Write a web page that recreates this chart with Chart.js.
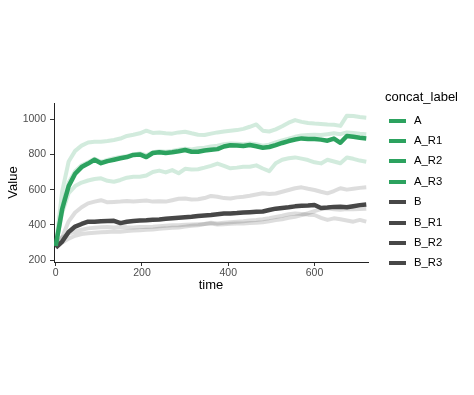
<!DOCTYPE html>
<html>
<head>
<meta charset="utf-8">
<script src="https://cdn.jsdelivr.net/npm/chart.js@4.4.0/dist/chart.umd.min.js"></script>
<style>
body{margin:0;background:#fff;}
#wrap{position:relative;width:474px;height:395px;font-family:"Liberation Sans",Arial,sans-serif;}
#legend .ttl{position:absolute;left:385px;top:89px;font-size:13px;color:#000;}
#legend .item{position:absolute;left:389px;height:20px;}
#legend .key{position:absolute;left:0;top:8px;width:17px;height:4px;}
#legend .lbl{position:absolute;left:25px;top:3px;font-size:11.3px;color:#000;white-space:nowrap;}
</style>
</head>
<body>
<div id="wrap">
<canvas id="chart" width="474" height="395"></canvas>
<div id="legend"></div>
</div>
<script>

/* DATA */

const time = [0,15,30,45,60,75,90,105,120,135,150,165,180,195,210,225,240,255,270,285,300,315,330,345,360,375,390,405,420,435,450,465,480,495,510,525,540,555,570,585,600,615,630,645,660,675,690,705,720];

const labels = ["A","A_R1","A_R2","A_R3","B","B_R1","B_R2","B_R3"];

const valA = [280,490,620,690,728,748,770,750,762,770,778,785,797,800,785,808,812,808,812,818,825,815,815,822,826,830,845,852,850,848,853,846,838,842,853,865,876,885,891,888,887,884,878,890,866,905,900,895,891];
const valA_R1 = [280,590,760,820,850,868,872,872,876,882,890,905,912,920,935,922,925,920,918,925,929,920,912,910,918,925,930,935,938,945,957,970,935,930,942,960,980,995,985,978,975,973,970,968,962,1020,1018,1012,1008];
const valA_R2 = [280,500,640,705,738,755,775,758,768,778,785,790,800,805,795,812,818,815,820,826,832,828,835,838,845,850,858,862,860,858,862,858,850,855,868,880,890,900,908,910,912,910,915,920,915,925,922,918,915];
const valA_R3 = [280,470,580,620,640,652,660,664,650,645,655,668,673,673,680,700,708,698,711,693,718,715,716,725,735,748,735,721,725,730,730,738,720,705,750,770,778,783,776,768,755,749,770,760,750,782,775,765,758];
const valB = [270,305,360,390,405,418,418,420,422,423,410,418,422,424,426,429,431,434,437,440,443,446,450,453,456,460,464,465,467,470,472,474,476,484,492,496,500,505,508,510,513,496,498,502,503,500,506,512,516];
const valB_R1 = [275,330,420,470,500,522,532,540,528,530,532,535,532,535,538,532,534,532,540,548,550,544,545,552,564,560,552,550,556,560,565,572,579,575,578,588,598,608,613,605,598,588,579,592,608,600,605,610,613];
const valB_R2 = [275,330,350,362,372,380,384,386,388,385,388,386,385,388,388,389,392,395,398,398,400,402,404,405,408,402,404,406,408,408,410,412,415,420,427,432,440,446,455,466,478,490,494,488,486,490,488,490,492];
const valB_R3 = [270,300,322,338,348,352,355,358,360,362,361,365,368,370,372,374,378,380,383,385,390,395,398,405,412,408,412,415,418,420,425,428,432,438,445,452,460,465,462,458,456,440,428,437,432,425,418,428,418];

const yTicksStep = 200;
const xTicksStep = 200;

/* STYLE */

const green = "#2ca25f";
const greenLight = "rgba(44,162,95,0.21)";
const grey = "#474747";
const greyLight = "rgba(77,77,77,0.19)";
const fontFam = "'Liberation Sans', Arial, sans-serif";

const values = [valA, valA_R1, valA_R2, valA_R3, valB, valB_R1, valB_R2, valB_R3];

function lineColor(lab){
  const isA = lab.startsWith("A");
  const isRep = lab.includes("_R");
  if(isA) return isRep ? greenLight : green;
  return isRep ? greyLight : grey;
}

const datasets = labels.map((lab, i) => ({
  label: lab,
  data: time.map((t, j) => ({x: t, y: values[i][j]})),
  borderColor: lineColor(lab),
  borderWidth: lab.includes("_R") ? 4 : 4.5,
  pointRadius: 0,
  fill: false,
  order: lab.includes("_R") ? 1 : 0
}));

new Chart(document.getElementById("chart"), {
  type: "line",
  data: { datasets: datasets },
  options: {
    responsive: false,
    animation: false,
    layout: { padding: { left: 0, top: 103, right: 106, bottom: 101 } },
    plugins: { legend: { display: false }, tooltip: { enabled: false } },
    elements: { line: { tension: 0, borderJoinStyle: "round" } },
    scales: {
      x: {
        type: "linear",
        min: -4,
        max: 724,
        border: { color: "#222", width: 1 },
        grid: { display: true, drawOnChartArea: false, drawTicks: true, tickLength: 4, tickColor: "#333" },
        ticks: { stepSize: xTicksStep, includeBounds: false, color: "#4d4d4d", font: { size: 10.5, family: fontFam }, padding: 1, maxRotation: 0, callback: v => String(v) },
        title: { display: true, text: "time", color: "#000", font: { size: 13, family: fontFam }, padding: { top: 0, bottom: 1 } },
        afterFit: s => { s.height = 32; }
      },
      y: {
        min: 189,
        max: 1092,
        border: { color: "#222", width: 1 },
        grid: { display: true, drawOnChartArea: false, drawTicks: true, tickLength: 4, tickColor: "#333" },
        ticks: { stepSize: yTicksStep, includeBounds: false, color: "#4d4d4d", font: { size: 10.5, family: fontFam }, padding: 4, callback: v => String(v) },
        title: { display: true, text: "Value", color: "#000", font: { size: 13, family: fontFam }, padding: { top: 6, bottom: 0 } },
        afterFit: s => { s.width = 54; }
      }
    }
  }
});

/* LEGEND */

const legend = document.getElementById("legend");
let html = '<div class="ttl">concat_label</div>';
labels.forEach((lab, i) => {
  const c = lab.startsWith("A") ? green : grey;
  html += '<div class="item" style="top:' + (110.5 + i * 20.4) + 'px">' +
    '<div class="key" style="background:' + c + '"></div>' +
    '<div class="lbl">' + lab + '</div></div>';
});
legend.innerHTML = html;

</script>
</body>
</html>
